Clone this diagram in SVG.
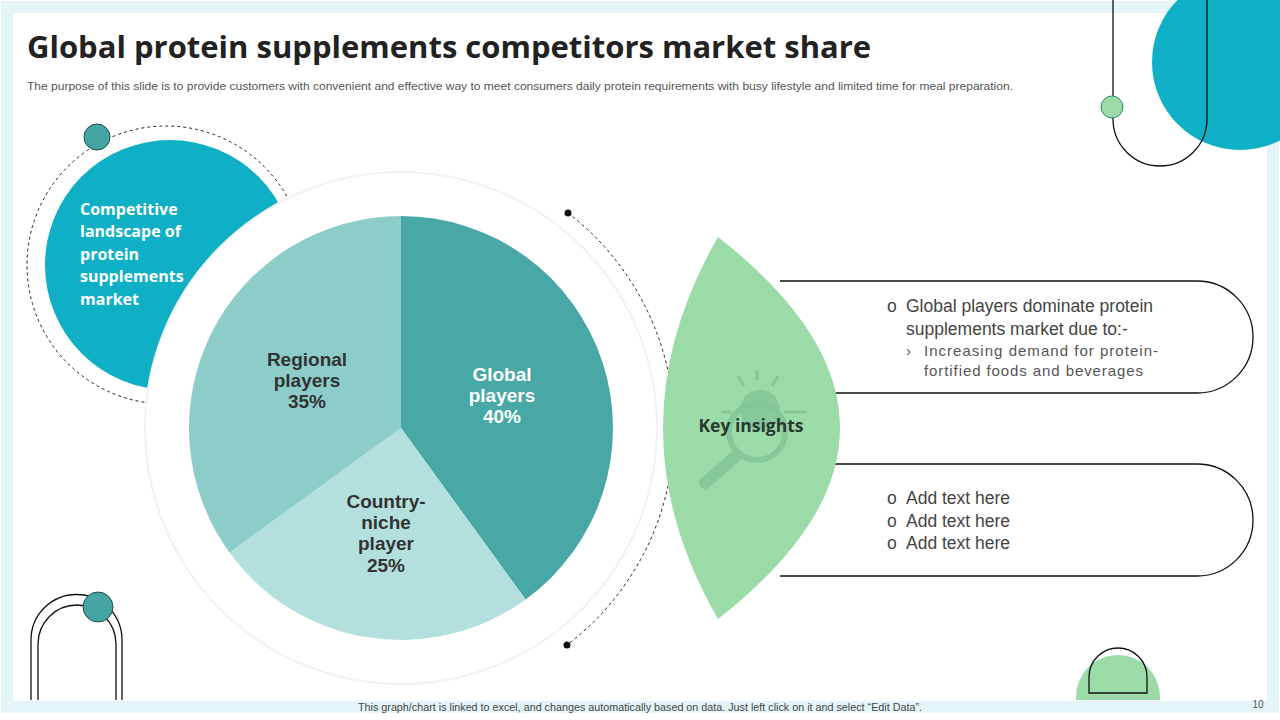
<svg xmlns="http://www.w3.org/2000/svg" width="1280" height="720" viewBox="0 0 1280 720">
<style>
.s{font-family:"Liberation Sans",Arial,sans-serif}
.h{font-family:"Open Sans","Noto Sans",sans-serif;font-weight:700}
.pl{font-family:"Liberation Sans",Arial,sans-serif;font-weight:700;font-size:19px;text-anchor:middle;fill:#333}
.ol{fill:none;stroke:#111;stroke-width:1.3}
.bt{font-family:"Liberation Sans",Arial,sans-serif;font-size:17.5px;fill:#444}
</style>
<defs><clipPath id="pc"><rect x="14" y="14" width="1248" height="686"/></clipPath></defs>
<rect width="1280" height="720" fill="#fff"/>
<rect x="7" y="7" width="1266" height="700" fill="none" stroke="#e4f5f9" stroke-width="12"/>
<g id="deco-tr">
<circle cx="1240" cy="62" r="88" fill="#0fb0c6"/>
<path class="ol" d="M1113,0 V119 A47,47 0 0 0 1207,119 V0"/>
<circle cx="1112" cy="107" r="11" fill="#9adba8" stroke="#2a8a6a" stroke-width="1"/>
</g>
<g clip-path="url(#pc)">
<g id="deco-bl">
<path class="ol" d="M31,720 V640 A45.5,45.5 0 0 1 122,640 V720"/>
<path class="ol" d="M38,720 V644 A39,39 0 0 1 116,644 V720"/>
<circle cx="98" cy="607" r="15" fill="#45a5a2" stroke="#1c4f4e" stroke-width="1"/>
</g>
<g id="deco-br">
<circle cx="1118" cy="697" r="42" fill="#9adba8"/>
<path class="ol" d="M1089,693 V677 A29,29 0 0 1 1147,677 V693 Z"/>
</g>
</g>
<text x="27" y="58" class="h" font-size="31" fill="#222">Global protein supplements competitors market share</text>
<text x="27" y="90" class="s" font-size="11" fill="#555" textLength="986" lengthAdjust="spacingAndGlyphs">The purpose of this slide is to provide customers with convenient and effective way to meet consumers daily protein requirements with busy lifestyle and limited time for meal preparation.</text>
<g id="landscape">
<circle cx="166" cy="265" r="139" fill="none" stroke="#222" stroke-dasharray="3 3" stroke-width="1"/>
<circle cx="170" cy="265" r="125" fill="#0fb0c6"/>
<circle cx="97" cy="137" r="13" fill="#45a5a2" stroke="#1c4f4e" stroke-width="1"/>
<g class="h" font-size="16" fill="#fff">
<text x="80" y="215">Competitive</text>
<text x="80" y="237">landscape of</text>
<text x="80" y="260">protein</text>
<text x="80" y="282">supplements</text>
<text x="80" y="305">market</text>
</g>
</g>
<g id="connectors">
<path d="M568,213 A272,272 0 0 1 567,645" fill="none" stroke="#222" stroke-dasharray="3 3" stroke-width="1"/>
<circle cx="568" cy="213" r="3.5" fill="#111"/>
<circle cx="567" cy="645" r="3.5" fill="#111"/>
</g>
<g id="pie">
<circle cx="401" cy="428" r="256" fill="#fff" stroke="#f2f2f2" stroke-width="2"/>
<path d="M401,428 L401,216 A212,212 0 0 1 525.6,599.5 Z" fill="#48a8a5"/>
<path d="M401,428 L525.6,599.5 A212,212 0 0 1 229.5,552.6 Z" fill="#b3e0dd"/>
<path d="M401,428 L229.5,552.6 A212,212 0 0 1 401,216 Z" fill="#8ccdca"/>
<text class="pl" style="fill:#fff"><tspan x="502" y="381">Global</tspan><tspan x="502" y="402">players</tspan><tspan x="502" y="423">40%</tspan></text>
<text class="pl"><tspan x="307" y="366">Regional</tspan><tspan x="307" y="387">players</tspan><tspan x="307" y="408">35%</tspan></text>
<text class="pl"><tspan x="386" y="508">Country-</tspan><tspan x="386" y="529">niche</tspan><tspan x="386" y="550">player</tspan><tspan x="386" y="572">25%</tspan></text>
</g>
<g id="box1">
<path class="ol" d="M780,281 H1197 A56,56 0 0 1 1197,393 H780"/>
<text class="bt"><tspan x="887" y="312">o</tspan><tspan x="906" y="312">Global players dominate protein</tspan><tspan x="906" y="335">supplements market due to:-</tspan></text>
<text class="s" font-size="15" fill="#555"><tspan x="906" y="356">›</tspan><tspan x="924" y="356" textLength="234">Increasing  demand  for protein-</tspan><tspan x="924" y="376" textLength="219">fortified  foods  and  beverages</tspan></text>
</g>
<g id="box2">
<path class="ol" d="M780,464 H1197 A56,56 0 0 1 1197,576 H780"/>
<text class="bt"><tspan x="887" y="504">o</tspan><tspan x="906" y="504">Add text here</tspan><tspan x="887" y="527">o</tspan><tspan x="906" y="527">Add text here</tspan><tspan x="887" y="549">o</tspan><tspan x="906" y="549">Add text here</tspan></text>
</g>
<g id="insights">
<path d="M718,237 Q962,428 718,619 Q608,428 718,237 Z" fill="#9adba8"/>
<g fill="none" stroke="#84c698" opacity="0.9">
<circle cx="757" cy="432" r="28" stroke-width="6"/>
<path d="M737,455 L705,483" stroke-width="12" stroke-linecap="round"/>
<path d="M757,370 V380 M738,376 L744,386 M778,376 L772,386 M722,412 H732 M784,412 H806" stroke-width="3"/>
</g>
<circle cx="760" cy="410" r="20" fill="#84c698" opacity="0.85"/>
<text x="751" y="432" class="h" font-size="17.5" text-anchor="middle" fill="#2a3a30">Key insights</text>
</g>
<text x="358" y="711" class="s" font-size="10" fill="#444" textLength="564" lengthAdjust="spacingAndGlyphs">This graph/chart is linked to excel, and changes automatically based on data. Just left click on it and select “Edit Data”.</text>
<text x="1258" y="708" class="s" font-size="10" text-anchor="middle" fill="#555">10</text>
</svg>
